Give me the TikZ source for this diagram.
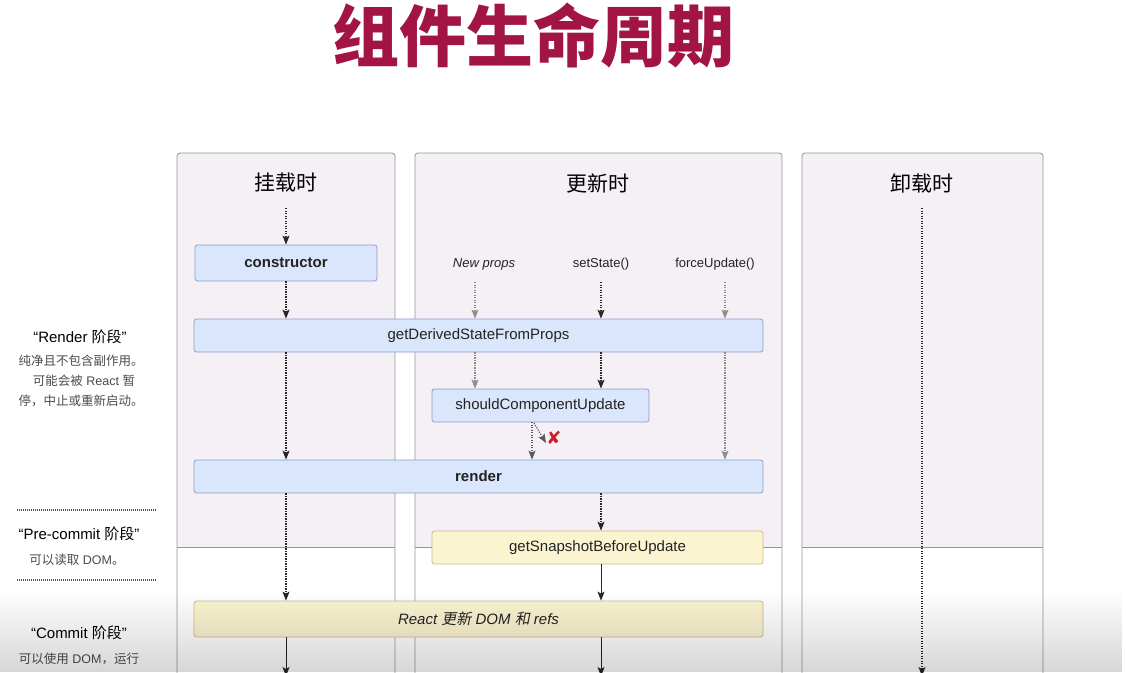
\documentclass[tikz,border=0pt]{standalone}
\usepackage{fontspec}
\setmainfont{Liberation Sans}
\newfontfamily\cjk{Noto Sans CJK SC}
\newfontfamily\cjkit[FakeSlant=0.2]{Noto Sans CJK SC}
\newfontfamily\symf{DejaVu Sans}
\usetikzlibrary{arrows.meta,fadings}
\definecolor{colfill}{RGB}{245,240,246}
\definecolor{colline}{RGB}{150,150,150}
\definecolor{bluefill}{RGB}{218,230,251}
\definecolor{blueline}{RGB}{140,160,196}
\definecolor{yelfill}{RGB}{251,244,208}
\definecolor{yelline}{RGB}{200,188,140}
\definecolor{titlered}{RGB}{163,20,70}
\definecolor{txt}{RGB}{35,35,35}
\definecolor{xred}{RGB}{205,30,40}
\tikzset{
  tip/.tip={Stealth[length=9pt,width=7pt,inset=2pt]},
  box/.style={draw, rounded corners=2.5pt, line width=0.8pt, inner sep=0pt, font=\fontsize{15}{17}\selectfont, text=txt},
  bluebox/.style={box, fill=bluefill, draw=blueline},
  yelbox/.style={box, fill=yelfill, draw=yelline},
  dotarr/.style={line width=1.1pt, dash pattern=on 1.3pt off 1.2pt, -tip, draw=black!85},
  lightarr/.style={dotarr, draw=black!45},
  midarr/.style={dotarr, draw=black!65},
  solidarr/.style={line width=1pt, -tip, draw=black!85},
  colhead/.style={font=\cjk\fontsize{21}{24}\selectfont, text=black},
  trig/.style={font=\fontsize{13}{15}\selectfont, text=txt},
  phase/.style={font=\fontsize{15}{17}\selectfont, text=black},
  note/.style={font=\fontsize{12.5}{14}\selectfont, text=black!70},
  sep/.style={line width=1.1pt, dash pattern=on 1pt off 1pt, draw=black!70},
  col/.style={draw=colline, line width=0.8pt}
}
\begin{document}
\begin{tikzpicture}[x=1pt,y=-1pt]
\useasboundingbox (0,0) rectangle (1126,672);
\clip (0,0) rectangle (1126,672);
\fill[white] (0,0) rectangle (1126,672);

% title
\node[font=\cjk\bfseries\fontsize{67}{70}\selectfont, text=titlered] (title) at (533,36) {组件生命周期};

% columns
\foreach \a/\b in {177/395, 415/782, 802/1043}{
  \fill[colfill] (\a,547) [rounded corners=3pt] -- (\a,153) -- (\b,153) [sharp corners] -- (\b,547) -- cycle;
  \draw[col, rounded corners=3pt] (\a,700) -- (\a,153) -- (\b,153) -- (\b,700);
  \draw[col] (\a,547) -- (\b,547);
}

\node[colhead] (h1) at (286,183) {挂载时};
\node[colhead] (h2) at (598,183) {更新时};
\node[colhead] (h3) at (922,183) {卸载时};

% boxes
\node[bluebox, font=\bfseries\fontsize{15}{17}\selectfont, minimum width=182pt, minimum height=36pt] (ctor) at (286,263) {constructor};
\node[bluebox, minimum width=569pt, minimum height=33pt] (gdsfp) at (478.5,335.5) {getDerivedStateFromProps};
\node[bluebox, minimum width=217pt, minimum height=33pt] (scu) at (540.5,405.5) {shouldComponentUpdate};
\node[bluebox, font=\bfseries\fontsize{15}{17}\selectfont, minimum width=569pt, minimum height=33pt] (render) at (478.5,476.5) {render};
\node[yelbox, minimum width=331pt, minimum height=33pt] (snap) at (597.5,547.5) {getSnapshotBeforeUpdate};
\node[yelbox, font=\itshape\fontsize{15}{17}\selectfont, minimum width=569pt, minimum height=36pt] (commit) at (478.5,619) {React {\cjkit 更新} DOM {\cjkit 和} refs};

% triggers
\node[trig, font=\itshape\fontsize{13}{15}\selectfont] (np) at (484,264) {New props};
\node[trig] (ss) at (601,264) {setState()};
\node[trig] (fu) at (715,264) {forceUpdate()};

% mount column arrows
\coordinate (m0) at (286,208);
\coordinate (m1) at (286,676);
\draw[dotarr] (m0) -- (ctor.north);
\draw[dotarr] (ctor.south) -- (ctor.south |- gdsfp.north);
\draw[dotarr] (ctor.south |- gdsfp.south) -- (ctor.south |- render.north);
\draw[dotarr] (ctor.south |- render.south) -- (ctor.south |- commit.north);
\draw[solidarr] (ctor.south |- commit.south) -- (m1);

% update column arrows
\coordinate (np0) at (475,282);
\coordinate (ss0) at (601,282);
\coordinate (fu0) at (725,282);
\coordinate (sc0) at (532,422);
\coordinate (u1) at (601,676);
\draw[lightarr] (np0) -- (np0 |- gdsfp.north);
\draw[lightarr] (np0 |- gdsfp.south) -- (np0 |- scu.north);
\draw[dotarr] (ss0) -- (ss0 |- gdsfp.north);
\draw[dotarr] (ss0 |- gdsfp.south) -- (ss0 |- scu.north);
\draw[lightarr] (fu0) -- (fu0 |- gdsfp.north);
\draw[lightarr] (fu0 |- gdsfp.south) -- (fu0 |- render.north);
\draw[midarr] (sc0) -- (sc0 |- render.north);
\coordinate (xa) at (546,443);
\draw[midarr] (534,423) -- (xa);
\node[font=\symf\bfseries\fontsize{18}{18}\selectfont, text=xred, inner sep=0pt] (xmark) at (554,438) {✘};
\draw[dotarr] (ss0 |- render.south) -- (ss0 |- snap.north);
\draw[solidarr] (ss0 |- snap.south) -- (ss0 |- commit.north);
\draw[solidarr] (ss0 |- commit.south) -- (u1);

% unmount column arrow
\coordinate (n0) at (922,208);
\coordinate (n1) at (922,676);
\draw[dotarr] (n0) -- (n1);

% left labels
\node[phase] (p1) at (80,337) {“Render {\cjk 阶段}”};
\node[note] (p1a) at (81,361) {\cjk 纯净且不包含副作用。};
\node[note] (p1b) at (84,381) {{\cjk 可能会被} React {\cjk 暂}};
\node[note] (p1c) at (81,401) {\cjk 停，中止或重新启动。};
\coordinate (s1a) at (17,510); \coordinate (s1b) at (157,510);
\draw[sep] (s1a) -- (s1b);
\node[phase] (p2) at (79,534) {“Pre-commit {\cjk 阶段}”};
\node[note] (p2a) at (77,560) {{\cjk 可以读取} DOM{\cjk 。}};
\coordinate (s2a) at (17,580); \coordinate (s2b) at (157,580);
\draw[sep] (s2a) -- (s2b);
\node[phase] (p3) at (79,633) {“Commit {\cjk 阶段}”};
\node[note] (p3a) at (79,659) {{\cjk 可以使用} DOM{\cjk ，运行}};

% screenshot shading at bottom
\fill[black, fill opacity=0.16, path fading=north] (0,590) rectangle (1126,672);
\end{tikzpicture}
\end{document}
